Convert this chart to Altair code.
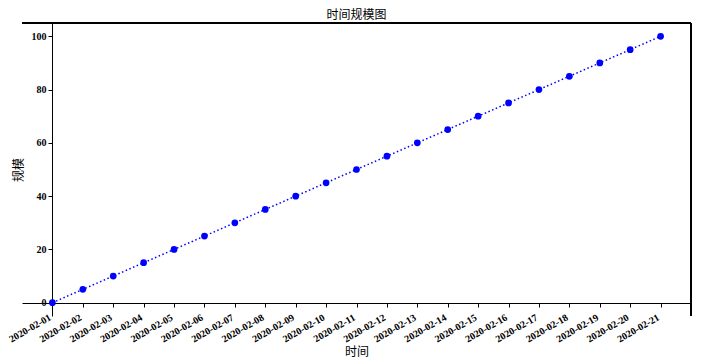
import altair as alt
import pandas as pd

dates = ["2020-02-01", "2020-02-02", "2020-02-03", "2020-02-04", "2020-02-05",
         "2020-02-06", "2020-02-07", "2020-02-08", "2020-02-09", "2020-02-10",
         "2020-02-11", "2020-02-12", "2020-02-13", "2020-02-14", "2020-02-15",
         "2020-02-16", "2020-02-17", "2020-02-18", "2020-02-19", "2020-02-20",
         "2020-02-21"]
values = [0, 5, 10, 15, 20, 25, 30, 35, 40, 45, 50, 55, 60, 65, 70, 75, 80,
          85, 90, 95, 100]
y_ticks = [0, 20, 40, 60, 80, 100]

df = pd.DataFrame({"date": dates, "value": values})


def dt(s):
    y, m, d = (int(p) for p in s.split("-"))
    return alt.DateTime(year=y, month=m, date=d, utc=True)


x_domain = [dt("2020-01-31"), dt("2020-02-22")]
y_domain = [-5, 105]

LABEL_FONT = "Liberation Serif"
CJK = "Noto Sans CJK SC"

x_enc = alt.X(
    "date:T",
    scale=alt.Scale(type="utc", domain=x_domain),
    axis=alt.Axis(
        values=[dt(s) for s in dates],
        labelExpr="utcFormat(datum.value, '%Y-%m-%d')",
        labelAngle=-30,
        labelAlign="right",
        labelBaseline="top",
        labelFont=LABEL_FONT,
        labelFontWeight="bold",
        labelFontSize=10,
        labelColor="black",
        labelPadding=5,
        labelOffset=-5,
        labelOverlap=False,
        labelBound=False,
        tickSize=4,
        tickColor="black",
        domainColor="black",
        grid=False,
        offset=-13,
        title="时间",
        titleFont=CJK,
        titleFontSize=12,
        titleFontWeight="normal",
        titleColor="black",
        titlePadding=3,
    ),
)
y_enc = alt.Y(
    "value:Q",
    scale=alt.Scale(domain=y_domain, nice=False, zero=False),
    axis=alt.Axis(
        values=y_ticks,
        labelFont=LABEL_FONT,
        labelFontWeight="bold",
        labelFontSize=10,
        labelColor="black",
        labelPadding=2,
        tickSize=4,
        tickColor="black",
        domainColor="black",
        grid=False,
        offset=-30,
        title="规模",
        titleFont=CJK,
        titleFontSize=12,
        titleFontWeight="normal",
        titleColor="black",
        titlePadding=6,
    ),
)

base = alt.Chart(df).encode(x=x_enc, y=y_enc)

line = base.mark_line(color="blue", strokeWidth=1.5, strokeDash=[1.5, 2.5])
points = base.mark_circle(color="blue", size=45, opacity=1)

top_rule = alt.Chart(df).mark_rule(color="black", strokeWidth=1).encode(
    x=alt.value(0), x2=alt.value(669), y=alt.value(0)
)
right_rule = alt.Chart(df).mark_rule(color="black", strokeWidth=1).encode(
    x=alt.value(669), y=alt.value(0), y2=alt.value(293)
)

chart = (
    alt.layer(line, points, top_rule, right_rule)
    .properties(
        width=669,
        height=293,
        title=alt.TitleParams(
            "时间规模图", font=CJK, fontSize=12, fontWeight="normal",
            color="black", offset=1
        ),
        autosize=alt.AutoSizeParams(type="none"),
        padding={"left": 14, "top": 15, "right": 3, "bottom": 45},
    )
    .configure_view(stroke=None)
)

chart.save("out.html", embed_options={"renderer": "svg", "actions": False})
